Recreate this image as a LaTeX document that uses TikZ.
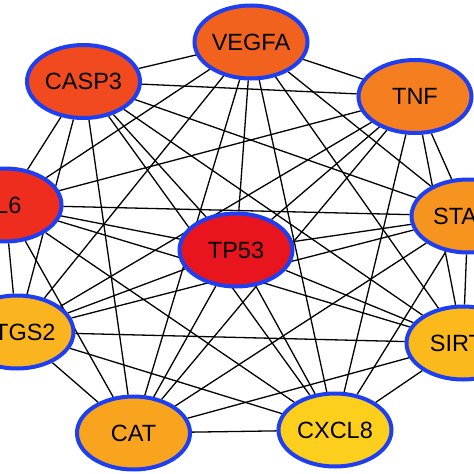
\documentclass[tikz,border=0pt]{standalone}
\usepackage{fontspec}
\setmainfont{Liberation Sans}
\usetikzlibrary{shapes.geometric}
\pgfdeclarelayer{bg}
\pgfsetlayers{bg,main}
\definecolor{bord}{HTML}{1E3EF2}
\definecolor{cVEGFA}{HTML}{F2621F}
\definecolor{cCASP3}{HTML}{F04A1E}
\definecolor{cTNF}{HTML}{F57E20}
\definecolor{cIL6}{HTML}{EF2D1E}
\definecolor{cTP53}{HTML}{E8141E}
\definecolor{cSTAT3}{HTML}{F7931F}
\definecolor{cPTGS2}{HTML}{F9B41F}
\definecolor{cSIRT1}{HTML}{FBB91B}
\definecolor{cCAT}{HTML}{F8A41E}
\definecolor{cCXCL8}{HTML}{FCCF1C}
\tikzset{
  gene/.style={ellipse, draw=bord, line width=4pt, minimum width=113pt, minimum height=73pt, inner sep=0pt, font=\fontsize{23.5}{24}\selectfont},
  link/.style={line width=1.3pt, black}
}
\begin{document}
\begin{tikzpicture}[x=1pt,y=-1pt]
\clip (0,0) rectangle (474,474);
\node[gene, fill=cVEGFA] (VEGFA) at (251,42) {VEGFA};
\node[gene, fill=cCASP3] (CASP3) at (83.5,81.5) {CASP3};
\node[gene, fill=cTNF] (TNF) at (415,96.5) {TNF};
\node[gene, fill=cIL6] (IL6) at (5,205) {IL6};
\node[gene, fill=cTP53] (TP53) at (236,250) {TP53};
\node[gene, fill=cSTAT3] (STAT3) at (468,216) {STAT3};
\node[gene, fill=cPTGS2] (PTGS2) at (17,332) {PTGS2};
\node[gene, fill=cSIRT1] (SIRT1) at (463,343) {SIRT1};
\node[gene, fill=cCAT] (CAT) at (133.5,433) {CAT};
\node[gene, fill=cCXCL8] (CXCL8) at (335,430) {CXCL8};
\begin{pgfonlayer}{bg}
\fill[white] (0,0) rectangle (474,474);
\foreach \a/\b in {VEGFA/CASP3,VEGFA/TNF,VEGFA/IL6,VEGFA/TP53,VEGFA/STAT3,VEGFA/PTGS2,VEGFA/SIRT1,VEGFA/CAT,VEGFA/CXCL8,
CASP3/TNF,CASP3/IL6,CASP3/TP53,CASP3/STAT3,CASP3/PTGS2,CASP3/SIRT1,CASP3/CAT,CASP3/CXCL8,
TNF/IL6,TNF/TP53,TNF/STAT3,TNF/PTGS2,TNF/SIRT1,TNF/CAT,TNF/CXCL8,
IL6/TP53,IL6/STAT3,IL6/PTGS2,IL6/SIRT1,IL6/CAT,IL6/CXCL8,
TP53/STAT3,TP53/PTGS2,TP53/SIRT1,TP53/CAT,TP53/CXCL8,
STAT3/PTGS2,STAT3/SIRT1,STAT3/CAT,STAT3/CXCL8,
PTGS2/SIRT1,PTGS2/CAT,PTGS2/CXCL8,
SIRT1/CAT,SIRT1/CXCL8,
CAT/CXCL8}
  \draw[link] (\a) -- (\b);
\end{pgfonlayer}
\end{tikzpicture}
\end{document}
